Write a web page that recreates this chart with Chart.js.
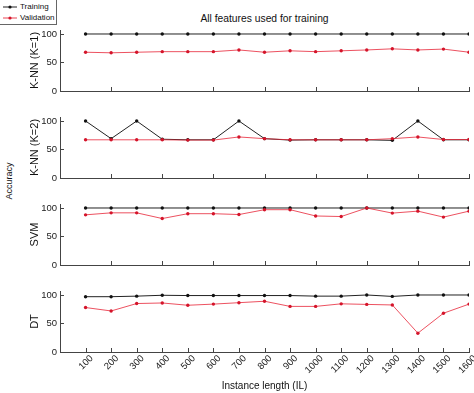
<!DOCTYPE html>
<html><head><meta charset="utf-8">
<script src="https://cdn.jsdelivr.net/npm/chart.js@4"></script>
<style>
html,body{margin:0;padding:0;background:#fff;width:474px;height:393px;overflow:hidden;font-family:"Liberation Sans",Arial,sans-serif;color:#111;}
.panel{position:absolute;left:0;width:474px;}
#title{position:absolute;left:60px;width:409px;top:13px;line-height:12px;text-align:center;font-size:10.3px;}
#acc{position:absolute;left:9px;top:181px;transform:translate(-50%,-50%) rotate(-90deg);font-size:9px;white-space:nowrap;}
#legend{position:absolute;left:-1px;top:-1px;width:56px;height:24px;border:1px solid #666;background:#fff;font-size:8px;z-index:5;}
#legend .row{position:absolute;left:1px;height:10px;line-height:10px;white-space:nowrap;}
#legend svg{position:absolute;left:0;top:0;}
#legend span{position:absolute;left:19px;top:0;}
</style></head>
<body>
<div id="legend">
  <div class="row" style="top:2px"><svg width="18" height="10"><line x1="2" y1="5" x2="16" y2="5" stroke="#222" stroke-width="1"/><circle cx="9" cy="5" r="1.6" fill="#111"/></svg><span>Training</span></div>
  <div class="row" style="top:13px"><svg width="18" height="10"><line x1="2" y1="5" x2="16" y2="5" stroke="#e8303e" stroke-width="0.9"/><circle cx="9" cy="5" r="1.6" fill="#d4142a"/></svg><span>Validation</span></div>
</div>
<div id="title">All features used for training</div>
<div id="acc">Accuracy</div>
<div class="panel" id="p0"><canvas id="c0"></canvas></div>
<div class="panel" id="p1"><canvas id="c1"></canvas></div>
<div class="panel" id="p2"><canvas id="c2"></canvas></div>
<div class="panel" id="p3"><canvas id="c3"></canvas></div>
<script>
// ---- data ----
const ilLabels = [100,200,300,400,500,600,700,800,900,1000,1100,1200,1300,1400,1500,1600];
const upperTicks = [200,400,600,800,1000,1200,1400,1600];
const yTicks = [0,50,100];
const panelTitles = ['K-NN (K=1)','K-NN (K=2)','SVM','DT'];

const knn1Train = [100,100,100,100,100,100,100,100,100,100,100,100,100,100,100,100];
const knn1Val   = [68,67,68,69,69,69,72,68,70.5,69,70.5,72,74,72,73.5,68];
const knn2Train = [100,69,100,68,67,67,100,69,66.5,67,67,67,66,100,67,67];
const knn2Val   = [67,67,67,67,66.5,66.5,72,69,67,67,67,67,69,72,67.5,67.5];
const svmTrain  = [100,100,100,100,100,100,100,100,100,100,100,100,100,100,100,100];
const svmVal    = [88,91.5,91.5,81.5,90,90,88.5,97,97,86,85,100,91,94.5,84,94.5];
const dtTrain   = [97,97,98,99.5,99,99,99,99,99,98,98,100,97.5,100,100,100];
const dtVal     = [78,72,85,86,82,84,86.5,89,80,80,84.5,83.5,82.5,33,68,84];

const FONT = '"Liberation Sans", Arial, sans-serif';
const AXIS = '#444';

const inwardTicks = {
  id: 'inwardTicks',
  afterDraw(chart) {
    const {ctx, chartArea: a, scales: {x, y}} = chart;
    ctx.save();
    ctx.strokeStyle = AXIS; ctx.lineWidth = 1;
    ctx.beginPath();
    x.ticks.forEach(t => { const px = Math.round(x.getPixelForValue(t.value)) + 0.5; ctx.moveTo(px, a.bottom); ctx.lineTo(px, a.bottom - 4); });
    y.ticks.forEach(t => { const py = Math.round(y.getPixelForValue(t.value)) + 0.5; ctx.moveTo(a.left, py); ctx.lineTo(a.left + 4, py); });
    ctx.stroke();
    ctx.restore();
  }
};

function makePanel(i, train, val) {
  const isBottom = i === 3;
  const chartTop = 30 + 87 * i;
  const padTop = 10;
  const plotH = 61;
  const xH = isBottom ? 41 : 5;
  const h = padTop + plotH + xH;
  const div = document.getElementById('p' + i);
  div.style.top = (chartTop - padTop) + 'px';
  div.style.height = h + 'px';
  const cv = document.getElementById('c' + i);
  cv.width = 474; cv.height = h;
  cv.style.width = '474px'; cv.style.height = h + 'px';
  new Chart(cv.getContext('2d'), {
    type: 'line',
    data: {
      datasets: [
        { label: 'Training', order: 1,
          data: ilLabels.map((v, k) => ({x: v, y: train[k]})),
          borderColor: '#222', borderWidth: 1, backgroundColor: '#111',
          pointBackgroundColor: '#111', pointRadius: 1.7, pointBorderWidth: 0 },
        { label: 'Validation', order: 0,
          data: ilLabels.map((v, k) => ({x: v, y: val[k]})),
          borderColor: 'rgba(232,40,58,0.9)', borderWidth: 0.9, backgroundColor: '#d4142a',
          pointBackgroundColor: '#d4142a', pointRadius: 1.7, pointBorderWidth: 0 }
      ]
    },
    options: {
      responsive: false, animation: false, devicePixelRatio: 1,
      layout: { padding: { top: padTop, right: 5, left: 0, bottom: 0 } },
      plugins: { legend: { display: false }, tooltip: { enabled: false }, title: { display: false } },
      elements: { line: { tension: 0 } },
      scales: {
        x: {
          type: 'linear', min: 0, max: 1600,
          afterBuildTicks: s => { s.ticks = (isBottom ? ilLabels : upperTicks).map(v => ({value: v})); },
          afterFit: s => { s.height = xH; s.paddingLeft = 0; s.paddingRight = 0; },
          ticks: { display: isBottom, autoSkip: false, minRotation: 45, maxRotation: 45,
                   font: { size: 9.5, family: FONT }, color: '#222', padding: 1, labelOffset: 6,
                   callback: v => String(v) },
          grid: { display: true, drawOnChartArea: false, drawTicks: false },
          border: { display: true, color: AXIS, width: 1 },
          title: isBottom ? { display: true, text: 'Instance length (IL)', font: { size: 10, family: FONT },
                              color: '#111', padding: { top: 0, bottom: 1 } } : { display: false }
        },
        y: {
          min: 0, max: 107,
          afterBuildTicks: s => { s.ticks = yTicks.map(v => ({value: v})); },
          afterFit: s => { s.width = 60; s.paddingTop = 0; s.paddingBottom = 0; },
          ticks: { font: { size: 9.5, family: FONT }, color: '#222', padding: 3 },
          grid: { display: true, drawOnChartArea: false, drawTicks: false },
          border: { display: true, color: AXIS, width: 1 },
          title: { display: true, text: panelTitles[i], font: { size: 11, family: FONT }, color: '#111',
                   padding: { top: 28, bottom: 0 } }
        }
      }
    },
    plugins: [inwardTicks]
  });
}

makePanel(0, knn1Train, knn1Val);
makePanel(1, knn2Train, knn2Val);
makePanel(2, svmTrain, svmVal);
makePanel(3, dtTrain, dtVal);
</script>
</body></html>
